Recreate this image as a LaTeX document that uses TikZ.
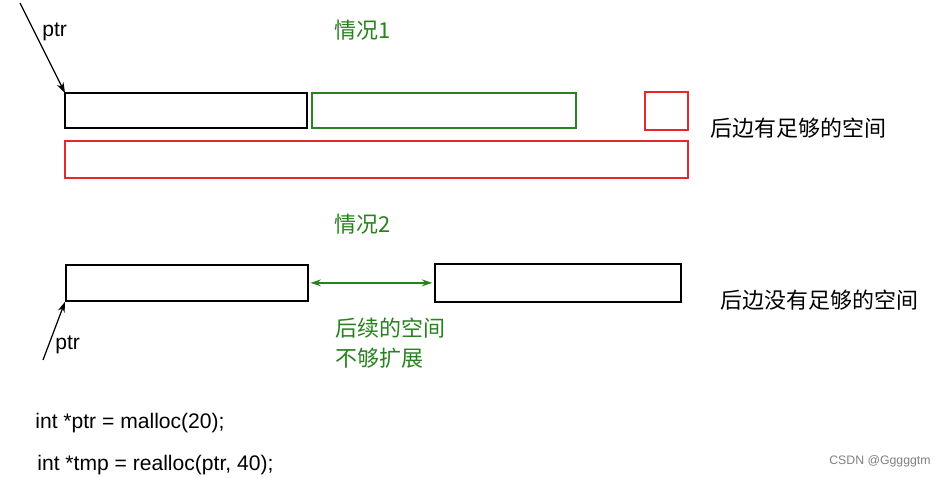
\documentclass[tikz,border=0pt]{standalone}
\usepackage{fontspec}
\usetikzlibrary{arrows.meta}
\setmainfont{Liberation Sans}
\newfontfamily\cjk{Noto Sans CJK SC}
\definecolor{gr}{RGB}{40,130,30}
\definecolor{rd}{RGB}{230,40,40}
\begin{document}
\begin{tikzpicture}[x=0.02cm,y=-0.02cm,
  blk/.style={draw=black,line width=1pt},
  grn/.style={draw=gr,line width=1pt},
  red/.style={draw=rd,line width=1pt},
  lbl/.style={font=\cjk\fontsize{12.5}{15}\selectfont,inner sep=0pt,anchor=west},
  glbl/.style={lbl,text=gr},
  code/.style={font=\fontsize{12}{14}\selectfont,inner sep=0pt,anchor=west},
  arr/.style={->,>={Stealth[length=6pt,width=4pt]},line width=0.7pt}]
\useasboundingbox[fill=white] (0,0) rectangle (950,477);
\draw[blk] (65,93) rectangle (307,128);
\coordinate (b1tl) at (65,93);
\draw[grn] (312,93) rectangle (576,128);
\draw[red] (645,92) rectangle (688,130);
\draw[red] (65,141) rectangle (688,178);
\node[glbl] (c1) at (334,30) {情况1};
\node[lbl] (t1) at (710,128) {后边有足够的空间};
\coordinate (p1s) at (20,3);
\node[code] (p1) at (42,32) {ptr};
\draw[arr] (p1s) -- (b1tl);
\node[glbl] (c2) at (334,224) {情况2};
\node[blk,inner sep=0pt,anchor=north west,minimum width=4.84cm,minimum height=0.72cm] (b2) at (65,264) {};
\node[blk,inner sep=0pt,anchor=north west,minimum width=4.92cm,minimum height=0.76cm] (b3) at (434,263) {};
\draw[<->,>={Stealth[length=6pt,width=4pt]},draw=gr,line width=0.8pt] ([xshift=1pt]b2.east) -- ([xshift=-1pt]b3.west |- b2.east);
\node[glbl] (t3) at (335,328) {后续的空间};
\node[glbl] (t4) at (335,358) {不够扩展};
\node[lbl] (t2) at (720,300) {后边没有足够的空间};
\coordinate (p2s) at (43,360);
\node[code] (p2) at (55,345) {ptr};
\draw[arr] (p2s) -- (b2.south west);
\node[code] (l1) at (35,423) {int *ptr = malloc(20);};
\node[code] (l2) at (37,465) {int *tmp = realloc(ptr, 40);};
\node[font=\fontsize{7}{8}\selectfont,text=gray,inner sep=0pt] (wm) at (880,461) {CSDN @Gggggtm};
\end{tikzpicture}
\end{document}
